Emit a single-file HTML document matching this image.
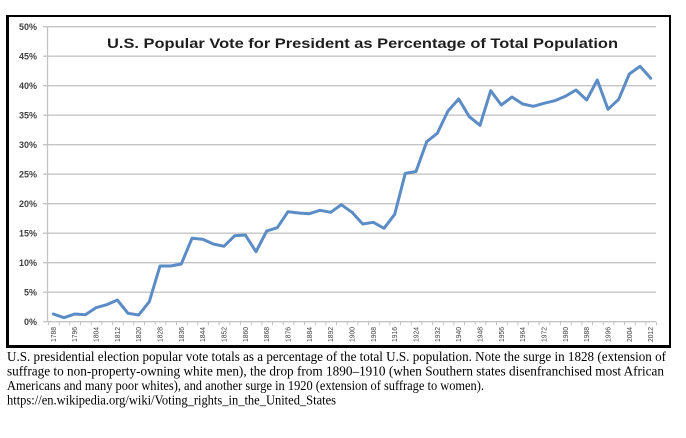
<!DOCTYPE html>
<html><head><meta charset="utf-8"><style>
html,body{margin:0;padding:0;background:#fff;}
svg{display:block;}
</style></head><body>
<svg width="686" height="438" viewBox="0 0 686 438" xmlns="http://www.w3.org/2000/svg">
<rect x="0" y="0" width="686" height="438" fill="#fff"/>
<!-- frame -->
<rect x="6" y="15" width="665" height="333" fill="#000"/>
<rect x="9" y="17" width="660" height="328" fill="#fff"/>
<!-- gridlines -->
<g stroke="#c4c4c4" stroke-width="1.3" fill="none">
<line x1="43" y1="26.7" x2="656" y2="26.7"/>
<line x1="43" y1="56.2" x2="656" y2="56.2"/>
<line x1="43" y1="85.7" x2="656" y2="85.7"/>
<line x1="43" y1="115.2" x2="656" y2="115.2"/>
<line x1="43" y1="144.7" x2="656" y2="144.7"/>
<line x1="43" y1="174.2" x2="656" y2="174.2"/>
<line x1="43" y1="203.7" x2="656" y2="203.7"/>
<line x1="43" y1="233.2" x2="656" y2="233.2"/>
<line x1="43" y1="262.7" x2="656" y2="262.7"/>
<line x1="43" y1="292.2" x2="656" y2="292.2"/>
<line x1="43" y1="321.7" x2="656" y2="321.7"/>
<line x1="47.5" y1="26.7" x2="47.5" y2="322"/>
<line x1="48" y1="323.5" x2="657" y2="323.5" stroke-width="3.5" stroke-dasharray="1 9.667"/>
</g>
<!-- y labels -->
<g font-family="Liberation Sans, sans-serif" font-weight="bold" font-size="9" fill="#404040" text-anchor="end">
<text x="37" y="29.9">50%</text>
<text x="37" y="59.4">45%</text>
<text x="37" y="88.9">40%</text>
<text x="37" y="118.4">35%</text>
<text x="37" y="147.9">30%</text>
<text x="37" y="177.4">25%</text>
<text x="37" y="206.9">20%</text>
<text x="37" y="236.4">15%</text>
<text x="37" y="265.9">10%</text>
<text x="37" y="295.4">5%</text>
<text x="37" y="324.9">0%</text>
</g>
<!-- title -->
<text x="107" y="48" font-family="Liberation Sans, sans-serif" font-weight="bold" font-size="14" fill="#1e1e1e" textLength="511" lengthAdjust="spacingAndGlyphs">U.S. Popular Vote for President as Percentage of Total Population</text>
<!-- x labels -->
<g font-family="Liberation Sans, sans-serif" font-size="7" fill="#404040">
<text transform="translate(55.8,342) rotate(-90)" textLength="15" lengthAdjust="spacingAndGlyphs">1788</text>
<text transform="translate(77.2,342) rotate(-90)" textLength="15" lengthAdjust="spacingAndGlyphs">1796</text>
<text transform="translate(98.5,342) rotate(-90)" textLength="15" lengthAdjust="spacingAndGlyphs">1804</text>
<text transform="translate(119.8,342) rotate(-90)" textLength="15" lengthAdjust="spacingAndGlyphs">1812</text>
<text transform="translate(141.2,342) rotate(-90)" textLength="15" lengthAdjust="spacingAndGlyphs">1820</text>
<text transform="translate(162.5,342) rotate(-90)" textLength="15" lengthAdjust="spacingAndGlyphs">1828</text>
<text transform="translate(183.8,342) rotate(-90)" textLength="15" lengthAdjust="spacingAndGlyphs">1836</text>
<text transform="translate(205.2,342) rotate(-90)" textLength="15" lengthAdjust="spacingAndGlyphs">1844</text>
<text transform="translate(226.5,342) rotate(-90)" textLength="15" lengthAdjust="spacingAndGlyphs">1852</text>
<text transform="translate(247.8,342) rotate(-90)" textLength="15" lengthAdjust="spacingAndGlyphs">1860</text>
<text transform="translate(269.2,342) rotate(-90)" textLength="15" lengthAdjust="spacingAndGlyphs">1868</text>
<text transform="translate(290.5,342) rotate(-90)" textLength="15" lengthAdjust="spacingAndGlyphs">1876</text>
<text transform="translate(311.8,342) rotate(-90)" textLength="15" lengthAdjust="spacingAndGlyphs">1884</text>
<text transform="translate(333.2,342) rotate(-90)" textLength="15" lengthAdjust="spacingAndGlyphs">1892</text>
<text transform="translate(354.5,342) rotate(-90)" textLength="15" lengthAdjust="spacingAndGlyphs">1900</text>
<text transform="translate(375.8,342) rotate(-90)" textLength="15" lengthAdjust="spacingAndGlyphs">1908</text>
<text transform="translate(397.2,342) rotate(-90)" textLength="15" lengthAdjust="spacingAndGlyphs">1916</text>
<text transform="translate(418.5,342) rotate(-90)" textLength="15" lengthAdjust="spacingAndGlyphs">1924</text>
<text transform="translate(439.8,342) rotate(-90)" textLength="15" lengthAdjust="spacingAndGlyphs">1932</text>
<text transform="translate(461.2,342) rotate(-90)" textLength="15" lengthAdjust="spacingAndGlyphs">1940</text>
<text transform="translate(482.5,342) rotate(-90)" textLength="15" lengthAdjust="spacingAndGlyphs">1948</text>
<text transform="translate(503.8,342) rotate(-90)" textLength="15" lengthAdjust="spacingAndGlyphs">1956</text>
<text transform="translate(525.2,342) rotate(-90)" textLength="15" lengthAdjust="spacingAndGlyphs">1964</text>
<text transform="translate(546.5,342) rotate(-90)" textLength="15" lengthAdjust="spacingAndGlyphs">1972</text>
<text transform="translate(567.8,342) rotate(-90)" textLength="15" lengthAdjust="spacingAndGlyphs">1980</text>
<text transform="translate(589.2,342) rotate(-90)" textLength="15" lengthAdjust="spacingAndGlyphs">1988</text>
<text transform="translate(610.5,342) rotate(-90)" textLength="15" lengthAdjust="spacingAndGlyphs">1996</text>
<text transform="translate(631.8,342) rotate(-90)" textLength="15" lengthAdjust="spacingAndGlyphs">2004</text>
<text transform="translate(653.2,342) rotate(-90)" textLength="15" lengthAdjust="spacingAndGlyphs">2012</text>
</g>
<!-- series -->
<polyline fill="none" stroke="#5b8cc6" stroke-width="3" stroke-linejoin="round" stroke-linecap="round" points="
53.3,314 64.0,317.7 74.7,314 85.3,314.7 96.0,307.7 106.7,304.7 117.3,300 128.0,313.3 138.7,315 149.3,301.7
160.0,266 170.7,266 181.3,264 192.0,238.3 202.7,239.3 213.3,244 224.0,246.3 234.7,235.7 245.3,235 256.0,251.7
266.7,231 277.3,227.7 288.0,211.7 298.7,213 309.3,213.7 320.0,210.3 330.7,212.3 341.3,204.7 352.0,212.3 362.7,224
373.3,222.3 384.0,228.3 394.7,214.3 405.3,173.3 416.0,171.5 426.7,141.7 437.3,133.3 448.0,111 458.7,99 469.3,116.7
480.0,125.3 490.7,90.7 501.3,105 512.0,97 522.7,104 533.3,106.3 544.0,103.3 554.7,100.7 565.3,96.3 576.0,90
586.7,100 597.3,80 608.0,109.3 618.7,99.3 629.3,74 640.0,66.3 650.7,78.3"/>
<!-- caption -->
<g font-family="Liberation Serif, serif" font-size="13.2" fill="#000">
<text x="7" y="361" textLength="659" lengthAdjust="spacingAndGlyphs">U.S. presidential election popular vote totals as a percentage of the total U.S. population. Note the surge in 1828 (extension of</text>
<text x="7" y="375.5" textLength="657" lengthAdjust="spacingAndGlyphs">suffrage to non-property-owning white men), the drop from 1890–1910 (when Southern states disenfranchised most African</text>
<text x="7" y="390" textLength="477" lengthAdjust="spacingAndGlyphs">Americans and many poor whites), and another surge in 1920 (extension of suffrage to women).</text>
<text x="7" y="404.5" textLength="329" lengthAdjust="spacingAndGlyphs">https://en.wikipedia.org/wiki/Voting_rights_in_the_United_States</text>
</g>
</svg>
</body></html>
